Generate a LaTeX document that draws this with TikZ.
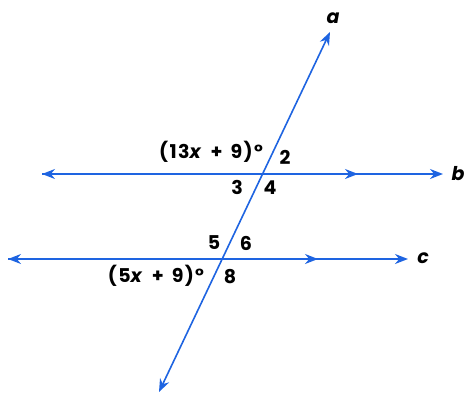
\documentclass[tikz,border=0pt]{standalone}
\usepackage{fontspec}
\setmainfont{Poppins}[LetterSpace=7]
\usetikzlibrary{arrows.meta}
\definecolor{lineblue}{RGB}{30,100,225}
\newcommand{\esp}{\hspace{0.42em}}
\begin{document}
\begin{tikzpicture}[x=1pt, y=-1pt,
    recta/.style={lineblue, line width=1.6pt},
    punta/.style={-{Stealth[length=13pt, width=10pt]}},
    puntas/.style={{Stealth[length=13pt, width=10pt]}-{Stealth[length=13pt, width=10pt]}},
    etiq/.style={font=\fontsize{19}{19}\selectfont\bfseries, inner sep=0pt}]
    \useasboundingbox (0,0) rectangle (474,405);

    % Puntos de las rectas
    \coordinate (bIzq) at (42,174);
    \coordinate (bMed) at (358,174);
    \coordinate (bDer) at (443,174);
    \coordinate (cIzq) at (8,259);
    \coordinate (cMed) at (318,259);
    \coordinate (cDer) at (408,259);
    \coordinate (aAbj) at (159,392);
    \coordinate (aArr) at (330,32);

    % Rectas paralelas b y c
    \draw[recta, puntas] (bIzq) -- (bDer);
    \draw[recta, punta] (bIzq) -- (bMed);
    \draw[recta, puntas] (cIzq) -- (cDer);
    \draw[recta, punta] (cIzq) -- (cMed);

    % Transversal a
    \draw[recta, puntas] (aAbj) -- (aArr);

    % Nombres de las rectas
    \node[etiq] (na) at (333,18) {\itshape a};
    \node[etiq] (nb) at (458,174) {\itshape b};
    \node[etiq] (nc) at (423,258) {\itshape c};

    % Angulos en b
    \node[etiq] (ang1) at (211,152) {(13\textit{x}\esp+\esp9)°};
    \node[etiq] (n2) at (285,157) {2};
    \node[etiq] (n3) at (237,187) {3};
    \node[etiq] (n4) at (270,188) {4};

    % Angulos en c
    \node[etiq] (n5) at (214,243) {5};
    \node[etiq] (n6) at (246,243) {6};
    \node[etiq] (ang2) at (156,276) {(5\textit{x}\esp+\esp9)°};
    \node[etiq] (n8) at (230,277) {8};
\end{tikzpicture}
\end{document}
